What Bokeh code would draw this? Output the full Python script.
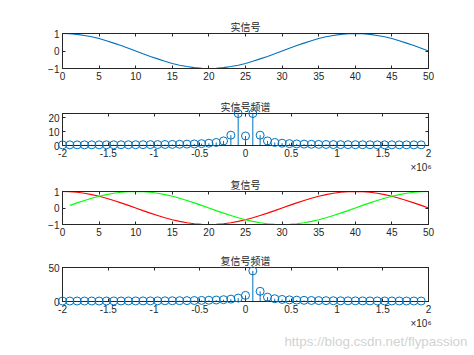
from bokeh.plotting import figure
from bokeh.layouts import column
from bokeh.models import Title, LinearAxis, FixedTicker, Range1d
from bokeh.embed import file_html
from bokeh.resources import INLINE

# ---------------- data ----------------
t_real = list(range(0, 51))
real_sig = [1.00, 0.99, 0.95, 0.89, 0.81, 0.71, 0.59, 0.45, 0.31, 0.16,
            0.00, -0.16, -0.31, -0.45, -0.59, -0.71, -0.81, -0.89, -0.95, -0.99,
            -1.00, -0.99, -0.95, -0.89, -0.81, -0.71, -0.59, -0.45, -0.31, -0.16,
            0.00, 0.16, 0.31, 0.45, 0.59, 0.71, 0.81, 0.89, 0.95, 0.99,
            1.00, 0.99, 0.95, 0.89, 0.81, 0.71, 0.59, 0.45, 0.31, 0.16, 0.00]
t_imag = list(range(1, 51))
imag_sig = [0.16, 0.31, 0.45, 0.59, 0.71, 0.81, 0.89, 0.95, 0.99, 1.00,
            0.99, 0.95, 0.89, 0.81, 0.71, 0.59, 0.45, 0.31, 0.16, 0.00,
            -0.16, -0.31, -0.45, -0.59, -0.71, -0.81, -0.89, -0.95, -0.99, -1.00,
            -0.99, -0.95, -0.89, -0.81, -0.71, -0.59, -0.45, -0.31, -0.16, 0.00,
            0.16, 0.31, 0.45, 0.59, 0.71, 0.81, 0.89, 0.95, 0.99, 1.00]

# frequency axis in units of 1e6 Hz
freq = [-2.00, -1.92, -1.84, -1.76, -1.68, -1.60, -1.52, -1.44, -1.36, -1.28,
        -1.20, -1.12, -1.04, -0.96, -0.88, -0.80, -0.72, -0.64, -0.56, -0.48,
        -0.40, -0.32, -0.24, -0.16, -0.08, 0.00, 0.08, 0.16, 0.24, 0.32,
        0.40, 0.48, 0.56, 0.64, 0.72, 0.80, 0.88, 0.96, 1.04, 1.12,
        1.20, 1.28, 1.36, 1.44, 1.52, 1.60, 1.68, 1.76, 1.84, 1.92]
real_spec = [0.46, 0.46, 0.46, 0.47, 0.48, 0.49, 0.50, 0.51, 0.53, 0.55,
             0.57, 0.60, 0.64, 0.68, 0.73, 0.80, 0.88, 0.99, 1.13, 1.34,
             1.65, 2.17, 3.29, 7.43, 23.0, 6.84, 23.0, 7.43, 3.29, 2.17,
             1.65, 1.34, 1.13, 0.99, 0.88, 0.80, 0.73, 0.68, 0.64, 0.60,
             0.57, 0.55, 0.53, 0.51, 0.50, 0.49, 0.48, 0.47, 0.46, 0.46]
cplx_spec = [0.71, 0.71, 0.71, 0.71, 0.72, 0.73, 0.74, 0.76, 0.78, 0.80,
             0.83, 0.86, 0.91, 0.96, 1.02, 1.09, 1.18, 1.29, 1.43, 1.61,
             1.85, 2.18, 2.68, 3.49, 5.02, 9.00, 45.0, 15.0, 6.45, 4.11,
             3.03, 2.40, 2.00, 1.72, 1.51, 1.35, 1.23, 1.13, 1.05, 0.98,
             0.93, 0.88, 0.85, 0.81, 0.79, 0.77, 0.75, 0.73, 0.72, 0.71]

time_ticks = [0, 5, 10, 15, 20, 25, 30, 35, 40, 45, 50]
freq_ticks = [-2, -1.5, -1, -0.5, 0, 0.5, 1, 1.5, 2]
freq_tick_labels = ["-2", "-1.5", "-1", "-0.5", "0", "0.5", "1", "1.5", "2"]
sig_ticks = [-1, 0, 1]
real_spec_ticks = [0, 10, 20]
cplx_spec_ticks = [0, 50]

titles = ["实信号", "实信号频谱", "复信号", "复信号频谱"]

BLUE = "#0072BD"
AX = "#262626"
CJK = "Noto Sans CJK SC"
LAT = "Liberation Sans"


def mirror_axis(p, loc, ticks):
    ax = LinearAxis(ticker=FixedTicker(ticks=ticks))
    ax.axis_line_color = AX
    ax.major_tick_in = 3
    ax.major_tick_out = 0
    ax.minor_tick_line_color = None
    ax.major_tick_line_color = AX
    ax.major_label_text_font_size = "0px"
    ax.major_label_text_color = None
    ax.major_label_standoff = 0
    p.add_layout(ax, loc)


def make_fig(height, top, bottom, xr, yr, xticks, yticks, title, xlabels=None):
    p = figure(width=474, height=height, x_range=Range1d(*xr), y_range=Range1d(*yr),
               output_backend="svg", toolbar_location=None,
               min_border_left=62, min_border_right=46,
               min_border_top=top, min_border_bottom=bottom)
    p.xgrid.visible = False
    p.ygrid.visible = False
    p.outline_line_color = AX
    p.outline_line_width = 1
    p.background_fill_color = "white"
    p.border_fill_color = "white"
    p.xaxis.ticker = FixedTicker(ticks=xticks)
    p.yaxis.ticker = FixedTicker(ticks=yticks)
    if xlabels is not None:
        p.xaxis.major_label_overrides = {k: v for k, v in zip(xticks, xlabels)}
    for ax in (p.xaxis[0], p.yaxis[0]):
        ax.axis_line_color = AX
        ax.major_tick_in = 3
        ax.major_tick_out = 0
        ax.minor_tick_line_color = None
        ax.major_tick_line_color = AX
        ax.major_label_text_font = LAT
        ax.major_label_text_font_size = "10px"
        ax.major_label_text_color = AX
        ax.major_label_standoff = 3
    mirror_axis(p, "right", yticks)
    mirror_axis(p, "above", xticks)
    p.title.text = title
    p.title.align = "center"
    p.title.text_font = CJK
    p.title.text_font_size = "10px"
    p.title.text_font_style = "normal"
    p.title.text_color = AX
    p.title.standoff = 0
    return p


def add_below_text(p, text, offset, size, color, standoff):
    t = Title(text=text, align="right", offset=offset, text_font=LAT,
              text_font_size=size, text_font_style="normal", text_color=color,
              standoff=standoff)
    p.add_layout(t, "below")


p1 = make_fig(88, 33, 20, (0, 50), (-1, 1), time_ticks, sig_ticks, titles[0])
p1.line(t_real, real_sig, line_color=BLUE, line_width=1.1)

p2 = make_fig(86, 25, 29, (-2, 2), (0, 23), freq_ticks, real_spec_ticks, titles[1], freq_tick_labels)
zeros = [0] * len(freq)
p2.segment(x0=freq, y0=zeros, x1=freq, y1=real_spec, line_color=BLUE, line_width=1)
r2 = p2.scatter(freq, real_spec, marker="circle", size=8, fill_color=None,
                line_color=BLUE, line_width=1)
r2.level = "overlay"
add_below_text(p2, "×10⁶", -3, "10px", AX, 1)

p3 = make_fig(76, 15, 26, (0, 50), (-1, 1), time_ticks, sig_ticks, titles[2])
p3.line(t_real, real_sig, line_color="#ff0000", line_width=1.1)
p3.line(t_imag, imag_sig, line_color="#00ff00", line_width=1.1)

p4 = make_fig(105, 17, 54, (-2, 2), (0, 50), freq_ticks, cplx_spec_ticks, titles[3], freq_tick_labels)
p4.segment(x0=freq, y0=zeros, x1=freq, y1=cplx_spec, line_color=BLUE, line_width=1)
r4 = p4.scatter(freq, cplx_spec, marker="circle", size=8, fill_color=None,
                line_color=BLUE, line_width=1)
r4.level = "overlay"
add_below_text(p4, "×10⁶", -3, "10px", AX, 1)
add_below_text(p4, "https://blog.csdn.net/flypassion", -39, "13.4px", "#d2d2d2", 4)

layout = column(p1, p2, p3, p4, spacing=0)
open("out.html", "w").write(file_html(layout, INLINE))
